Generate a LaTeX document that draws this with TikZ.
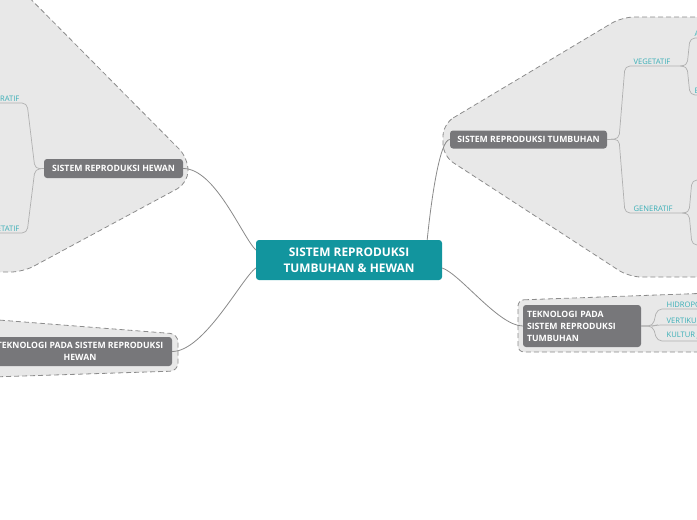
\documentclass[tikz,border=0pt]{standalone}
\usepackage{fontspec}
\setmainfont{Open Sans}
\usetikzlibrary{calc}
\usepackage{xcolor}
\definecolor{MapTeal}{HTML}{12959E}
\definecolor{MapGray}{HTML}{77777A}
\definecolor{MapGroup}{HTML}{E8E8E8}
\definecolor{MapDash}{HTML}{8C8C8C}
\definecolor{MapLink}{HTML}{8A8A8A}
\definecolor{MapBranch}{HTML}{B0B0B0}
\definecolor{MapLabel}{HTML}{3AAFB7}
\tikzset{
    % Node styles
    central/.style={
        rectangle,
        rounded corners=3pt,
        fill=MapTeal,
        text=white,
        font=\fontsize{11.9}{16}\selectfont\bfseries,
        align=center,
        minimum width=186pt,
        minimum height=40pt,
        inner sep=0pt
    },
    topic/.style={
        rectangle,
        rounded corners=3pt,
        fill=MapGray,
        text=white,
        font=\fontsize{8.7}{12}\selectfont\bfseries,
        inner sep=0pt
    },
    subtopic/.style={
        font=\fontsize{7.6}{9}\selectfont,
        text=MapLabel,
        inner sep=1.5pt,
        anchor=south west
    },
    % Group and line styles
    group/.style={
        draw=MapDash,
        fill=MapGroup,
        dash pattern=on 5pt off 3pt,
        line width=0.8pt,
        rounded corners=12pt
    },
    link/.style={
        draw=MapLink,
        line width=0.8pt
    },
    branch/.style={
        draw=MapBranch,
        line width=0.7pt,
        rounded corners=5pt
    }
}
\begin{document}
\begin{tikzpicture}[x=1pt, y=-1pt]
    \useasboundingbox (0,0) rectangle (697,520);
    \clip (0,0) rectangle (697,520);

    % groups
    \draw[group] (-40,-40) -- (-8,-40) -- (188,158) -- (188,183) -- (23,272) -- (-40,272) -- cycle;
    \draw[group] (443,124) -- (622,17) -- (760,17) -- (760,277) -- (629,277) -- (443,156) -- cycle;
    \draw[group, rounded corners=6pt] (518,300) -- (740,292) -- (740,352) -- (518,352) -- cycle;
    \draw[group, rounded corners=8pt] (-40,317) -- (178,334) -- (178,371) -- (-40,378) -- cycle;

    % nodes
    \node[central] (root) at (349,260) {SISTEM REPRODUKSI\\TUMBUHAN \& HEWAN};
    \node[topic, minimum width=139pt, minimum height=19pt] (hewan) at (113.5,168.5) {SISTEM REPRODUKSI HEWAN};
    \node[topic, minimum width=157pt, minimum height=18pt] (tumb) at (528.5,139.5) {SISTEM REPRODUKSI TUMBUHAN};
    \node[topic, minimum width=118pt, minimum height=42pt, align=left, text width=110pt] (tektum) at (582,326) {TEKNOLOGI PADA\\SISTEM REPRODUKSI\\TUMBUHAN};
    \node[topic, minimum width=184pt, minimum height=29pt, align=center] (tekhew) at (80,351.5) {TEKNOLOGI PADA SISTEM REPRODUKSI\\HEWAN};

    \node[subtopic, anchor=south east] (hgen) at (21,103) {GENERATIF};
    \node[subtopic, anchor=south east] (hveg) at (21,233) {VEGETATIF};
    \node[subtopic] (veg) at (632,66) {VEGETATIF};
    \node[subtopic] (gen) at (632,213) {GENERATIF};
    \node[subtopic] (alami) at (693,38) {ALAMI};
    \node[subtopic] (buatan) at (693,95) {BUATAN};
    \node[subtopic] (hidro) at (665,309) {HIDROPONIK};
    \node[subtopic] (verti) at (665,325) {VERTIKULTUR};
    \node[subtopic] (kultur) at (665,341) {KULTUR JARINGAN};
    \coordinate (vegEnd) at (683,66);
    \coordinate (genEnd) at (686,213);
    \coordinate (genA) at (720,180);
    \coordinate (genB) at (720,245);

    % links from the centre
    \draw[link] ($(root.west)+(0,-10)$) .. controls +(-14,-14) and +(32,0) .. (hewan.east);
    \draw[link] ($(root.north east)+(-15,0)$) .. controls +(4,-40) and +(-10,0) .. (tumb.west);
    \draw[link] ($(root.east)+(0,8)$) .. controls +(18,6) and +(-24,0) .. (tektum.west);
    \draw[link] ($(root.west)+(0,8)$) .. controls +(-14,10) and +(32,0) .. (tekhew.east);

    % branches
    \draw[branch] (hewan.west) -- (35,169) -- (27,103) -- (hgen.south west);
    \draw[branch] (hewan.west) -- (35,169) -- (27,233) -- (hveg.south west);
    \draw[branch] (tumb.east) -- (619,139) -- (625,66) -- (vegEnd);
    \draw[branch] (tumb.east) -- (619,139) -- (625,213) -- (genEnd);
    \draw[branch] (vegEnd) -- (687,66) -- (690,38) -- (alami.south east);
    \draw[branch] (vegEnd) -- (687,66) -- (690,95) -- (buatan.south east);
    \draw[branch] (genEnd) -- (689,213) -- (692,180) -- (genA);
    \draw[branch] (genEnd) -- (689,213) -- (692,245) -- (genB);
    \draw[branch] (tektum.east) -- (653,326) -- (657,309) -- (hidro.south east);
    \draw[branch] (tektum.east) -- (653,326) -- (657,325) -- (verti.south east);
    \draw[branch] (tektum.east) -- (653,326) -- (657,341) -- (kultur.south east);
\end{tikzpicture}
\end{document}
